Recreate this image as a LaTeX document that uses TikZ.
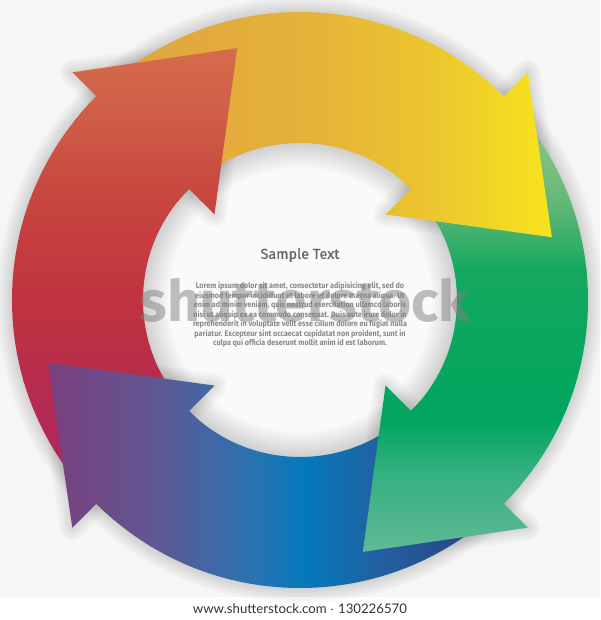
\documentclass[tikz,border=0pt]{standalone}
\usepackage{fontspec}
\setmainfont{Fira Sans}
\newfontfamily\latofont{Lato}
\newfontfamily\titlefont[FakeBold=0.5]{Fira Sans}
\definecolor{bgc}{HTML}{F6F6F6}
\definecolor{holec}{HTML}{FAFAFA}
\definecolor{titlec}{HTML}{666666}
\definecolor{loremc}{HTML}{8A8A8A}
\definecolor{footc}{HTML}{333333}
% red
\definecolor{rA}{HTML}{D66E4C}\definecolor{rB}{HTML}{CF5C47}\definecolor{rC}{HTML}{C7453F}
\definecolor{rD}{HTML}{C0333F}\definecolor{rE}{HTML}{B72C4E}\definecolor{rF}{HTML}{A82369}
% yellow
\definecolor{yA}{HTML}{DFA23F}\definecolor{yB}{HTML}{E5B13A}\definecolor{yC}{HTML}{EBC52F}\definecolor{yD}{HTML}{F8E81B}
% green
\definecolor{gA}{HTML}{A0CD91}\definecolor{gB}{HTML}{66B878}\definecolor{gC}{HTML}{14A85E}
\definecolor{gD}{HTML}{00A55F}\definecolor{gE}{HTML}{33B07F}\definecolor{gF}{HTML}{68BB9A}
% blue
\definecolor{bA}{HTML}{7C3D7B}\definecolor{bB}{HTML}{625692}\definecolor{bC}{HTML}{2C72B1}
\definecolor{bD}{HTML}{0479BC}\definecolor{bE}{HTML}{2360A1}\definecolor{bF}{HTML}{2D3A7A}
\begin{document}
\begin{tikzpicture}[x=0.5pt,y=0.5pt,
  halo/.style={draw=black,draw opacity=#1,line join=round,fill=none},
]
\useasboundingbox (-300,-320) rectangle (300,300);
\fill[bgc] (-300,-297) rectangle (300,300);
\fill[white] (-300,-320) rectangle (300,-297);
% ---- shadows
\foreach \i in {1,...,12}{
  \draw[halo=0.011,line width=\i*1.3pt] (0,0) circle[radius=288];
}
\fill[holec] (0,0) circle[radius=157];
\foreach \i in {1,...,14}{
  \draw[halo=0.012,line width=\i*1.8pt] (0,0) circle[radius=157];
}
\foreach \a in {135,45,-45,225}{
  \foreach \i in {1,...,10}{
    \draw[halo=0.011,line width=\i*1.3pt] (\a:322) -- (\a-31:259.6) -- (\a:121) -- cycle;
  }
}
% ---- shading macros
\newcommand\redbands{%
  \shade[top color=rA,bottom color=rB] (-300,261) rectangle (300,179);
  \shade[top color=rB,bottom color=rC] (-300,180) rectangle (300,99);
  \shade[top color=rC,bottom color=rD] (-300,100) rectangle (300,-1);
  \shade[top color=rD,bottom color=rE] (-300,0) rectangle (300,-81);
  \shade[top color=rE,bottom color=rF] (-300,-80) rectangle (300,-215);}
\newcommand\yellowbands{%
  \shade[left color=yA,right color=yB] (-215,-320) rectangle (1,300);
  \shade[left color=yB,right color=yC] (0,-320) rectangle (131,300);
  \shade[left color=yC,right color=yD] (130,-320) rectangle (265,300);}
\newcommand\greenbands{%
  \shade[top color=gA,bottom color=gB] (-300,215) rectangle (300,99);
  \shade[top color=gB,bottom color=gC] (-300,100) rectangle (300,29);
  \shade[top color=gC,bottom color=gD] (-300,30) rectangle (300,-121);
  \shade[top color=gD,bottom color=gE] (-300,-120) rectangle (300,-171);
  \shade[top color=gE,bottom color=gF] (-300,-170) rectangle (300,-265);}
\newcommand\bluebands{%
  \shade[left color=bA,right color=bB] (-265,-320) rectangle (-149,300);
  \shade[left color=bB,right color=bC] (-150,-320) rectangle (-49,300);
  \shade[left color=bC,right color=bD] (-50,-320) rectangle (6,300);
  \shade[left color=bD,right color=bE] (5,-320) rectangle (81,300);
  \shade[left color=bE,right color=bF] (80,-320) rectangle (205,300);}
\newcommand\shaftpath[1]{(#1+90:288) arc[start angle=#1+90,end angle=#1,radius=288] -- (#1:157) arc[start angle=#1,end angle=#1+90,radius=157] -- cycle}
% head triangle plus a thin strip reaching back into its own shaft
\newcommand\headpath[1]{(#1:322) -- (#1-31:259.6) -- (#1:121) -- (#1:157) arc[start angle=#1,end angle=#1+5,radius=157] -- (#1+5:288) arc[start angle=#1+5,end angle=#1,radius=288] -- cycle}
% ---- shafts
\begin{scope}\clip \shaftpath{135}; \redbands \end{scope}
\begin{scope}\clip \shaftpath{45}; \yellowbands \end{scope}
\begin{scope}\clip \shaftpath{-45}; \greenbands \end{scope}
\begin{scope}\clip \shaftpath{-135}; \bluebands \end{scope}
% ---- heads
\begin{scope}\clip \headpath{135}; \redbands \end{scope}
\begin{scope}\clip \headpath{45}; \yellowbands \end{scope}
\begin{scope}\clip \headpath{-45}; \greenbands \end{scope}
\begin{scope}\clip \headpath{225}; \bluebands \end{scope}
% ---- texts
\node[text=titlec,font=\titlefont\fontsize{7.2}{8}\selectfont] (title) at (0,45) {Sample Text};
\node[text=loremc,align=center,font=\fontsize{4}{4.75}\selectfont\bfseries,xscale=0.9,inner sep=0] (lorem) at (0,-15)
 {Lorem ipsum dolor sit amet, consectetur adipisicing elit, sed do\\
  eiusmod tempor incididunt ut labore et dolore magna aliqua. Ut\\
  enim ad minim veniam, quis nostrud exercitation ullamco laboris\\
  nisi ut aliquip ex ea commodo consequat. Duis aute irure dolor in\\
  reprehenderit in voluptate velit esse cillum dolore eu fugiat nulla\\
  pariatur. Excepteur sint occaecat cupidatat non proident, sunt in\\
  culpa qui officia deserunt mollit anim id est laborum.};
\node[text=black!50,text opacity=0.5,font=\fontsize{28.5}{30}\selectfont\bfseries,anchor=base,inner sep=0] (wm) at (5,-22) {shutterstock};
\node[text=footc,font=\latofont\fontsize{6.6}{8}\selectfont] (foot) at (0,-309) {www.shutterstock.com $\cdot$ 130226570};
\end{tikzpicture}
\end{document}
